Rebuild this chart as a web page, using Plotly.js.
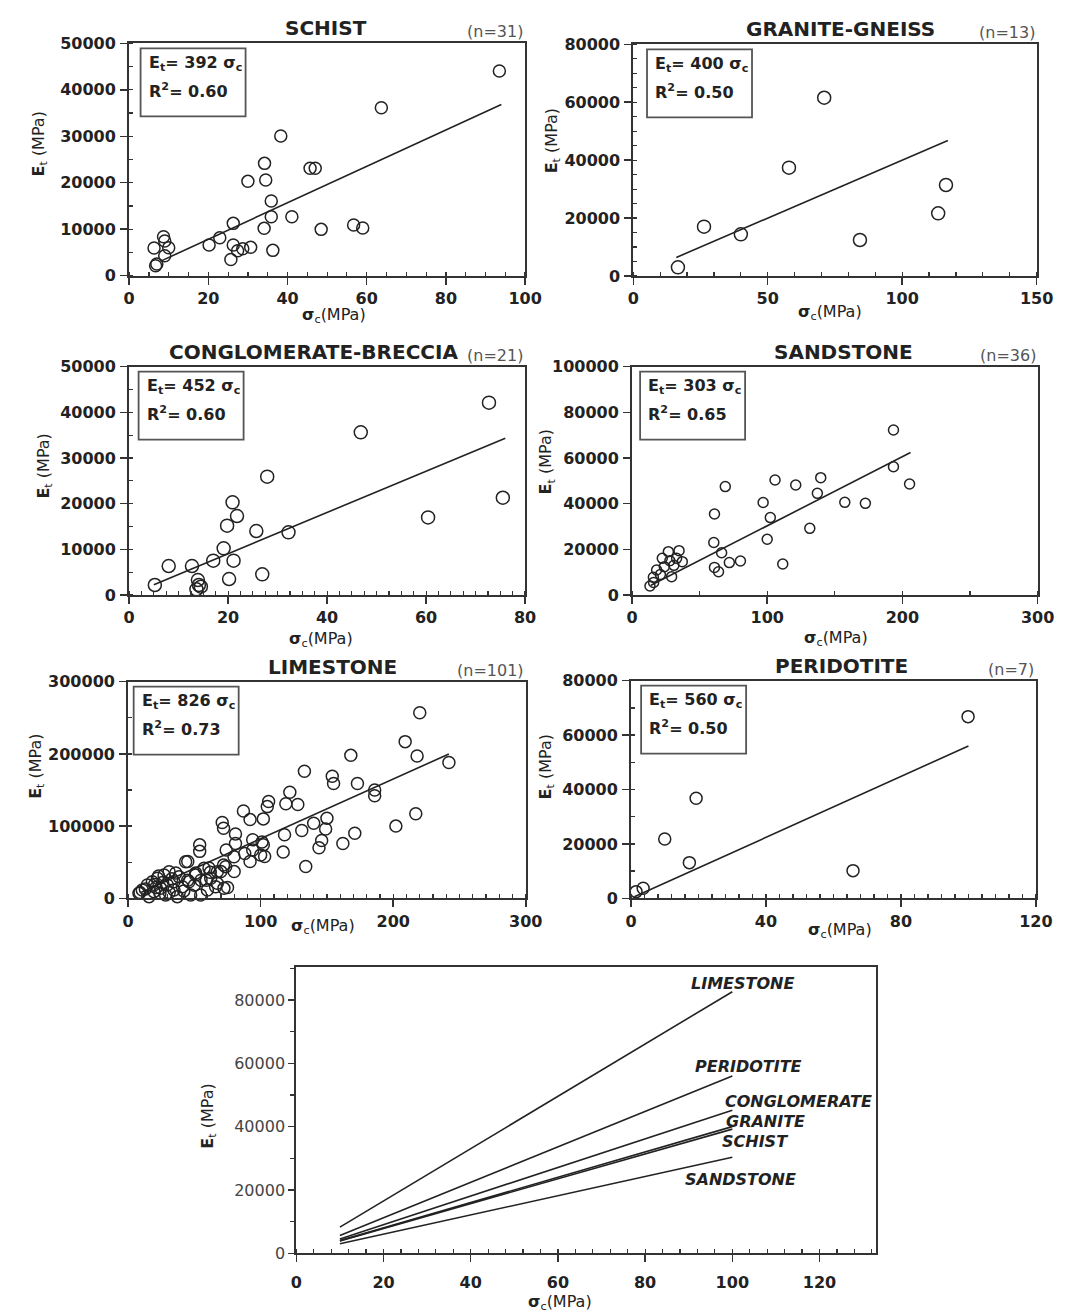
<!DOCTYPE html>
<html>
<head>
<meta charset="utf-8">
<script src="https://cdn.plot.ly/plotly-3.0.1.min.js"></script>
<style>
  html, body { margin: 0; padding: 0; background: #fff; }
  #chart { width: 1078px; height: 1315px; }
</style>
</head>
<body>
<div id="chart"></div>
<script>
// ---------- data ----------
const rockNames = ['SCHIST', 'GRANITE-GNEISS', 'CONGLOMERATE-BRECCIA', 'SANDSTONE', 'LIMESTONE', 'PERIDOTITE'];
const sampleCounts = [31, 13, 21, 36, 101, 7];
const slopes = [392, 400, 452, 303, 826, 560];       // Et = slope * sigma_c
const r2Values = ['0.60', '0.50', '0.60', '0.65', '0.73', '0.50'];
const fitXRange = [[8, 94], [16, 117], [5, 76], [14, 206], [10, 242], [1, 100]];

const schistSigma = [93.5, 63.7, 38.3, 34.2, 30.0, 34.5, 45.7, 47.0, 35.9, 35.9, 41.1, 34.1, 48.5, 56.7, 59.0, 26.3,
  36.3, 22.9, 20.2, 26.3, 25.7, 27.4, 28.7, 30.7, 6.3, 8.7, 9.0, 10.0, 9.0, 7.0, 6.7];
const schistE = [44050, 36150, 30060, 24170, 20300, 20590, 23100, 23100, 16070, 12700, 12700, 10190, 9970, 10900, 10260, 11260,
  5450, 8180, 6600, 6600, 3500, 5380, 5810, 6100, 5950, 8390, 7460, 6030, 4300, 2510, 2150];

const graniteSigma = [16.6, 26.3, 40.0, 57.9, 71.0, 84.3, 113.4, 116.3];
const graniteE = [2990, 17030, 14380, 37400, 61560, 12430, 21630, 31420];

const conglSigma = [72.7, 46.8, 75.5, 60.4, 27.9, 20.9, 21.8, 19.8, 25.7, 32.2, 19.1, 17.0, 21.1, 8.0, 12.7, 20.2, 26.9,
  5.2, 14.1, 14.5, 13.6, 13.9];
const conglE = [42120, 35620, 21310, 17000, 25910, 20290, 17300, 15180, 14010, 13720, 10220, 7520, 7520, 6350, 6350, 3500, 4530,
  2190, 2190, 1820, 1240, 3280];

const sandSigma = [193.4, 193.4, 205.3, 105.8, 121.1, 139.6, 137.1, 69.0, 97.0, 157.4, 172.6, 102.3, 61.0, 131.5, 100.0, 60.5,
  111.5, 66.3, 61.0, 64.0, 72.0, 80.2,
  13.3, 15.8, 18.2, 22.4, 26.9, 23.9, 29.3, 33.0, 34.8, 37.2, 16.0, 21.0, 28.0, 31.0];
const sandE = [72260, 56200, 48610, 50360, 48180, 51390, 44530, 47500, 40500, 40580, 40150, 33900, 35500, 29200, 24400, 23000,
  13600, 18500, 12100, 10200, 14200, 14900,
  3940, 7740, 10950, 16060, 18980, 12410, 8030, 16060, 19420, 14600, 5500, 9000, 15000, 13000];

const limeSigma = [220, 209, 218, 242, 168, 133, 154, 155, 173, 186, 186, 122, 119, 128, 106, 105, 87, 92, 102, 71,
  72, 81, 150, 140, 149, 118, 131, 171, 217, 202, 146, 144, 162, 117, 134, 102, 101, 94, 94, 100,
  103, 92, 88, 81, 74, 54, 54, 72, 70, 80, 61, 75, 66, 59, 51, 45, 45,
  10.7, 14.5, 18.3, 22.1, 27.1, 30.9, 19.5, 24.6, 29.6, 34.6, 38.4, 43.4, 28.3, 34.6, 40.9, 45.9, 51, 57.3, 62.3, 67.3,
  72.3, 67.3, 73.6, 79.9, 59.8, 54.7, 47.2, 37.1, 15.8, 8.2, 13, 20, 24, 33, 26, 9, 21, 36, 42, 50, 31, 23, 55, 62];
const limeE = [257000, 217000, 197000, 188000, 198000, 176000, 169000, 159000, 159000, 150000, 142000, 147000, 131000, 130000, 134000, 127000, 121000, 109000, 110000, 105000,
  97000, 89000, 111000, 104000, 96000, 88000, 94000, 90000, 117000, 100000, 80000, 70000, 76000, 64000, 44000, 74000, 78000, 81000, 67000, 60000,
  58000, 51000, 62000, 76000, 67000, 74000, 65000, 46000, 37000, 37000, 42000, 15000, 16000, 25000, 35000, 51000, 25000,
  11500, 18400, 23000, 27700, 32300, 36900, 9200, 13800, 18400, 23000, 29900, 50700, 4600, 11500, 16100, 23000, 32300, 41500, 27700, 20700,
  13800, 36900, 43800, 57600, 11500, 4600, 4600, 2300, 2300, 6900, 13000, 19000, 7000, 27000, 22000, 8000, 15000, 35000, 10000, 18000, 8000, 31000, 25000, 36000];

const peridSigma = [99.9, 19.3, 10.0, 17.3, 65.8, 3.6, 1.5];
const peridE = [66790, 36760, 21810, 13110, 10170, 3680, 2450];

// comparison panel: one fitted line per rock type
const compareNames = ['LIMESTONE', 'PERIDOTITE', 'CONGLOMERATE', 'GRANITE', 'SCHIST', 'SANDSTONE'];
const compareSlopes = [826, 560, 452, 400, 392, 303];
const compareSigma = [10, 100];

// ---------- layout helpers ----------
const W = 1078, H = 1315;
const FONT = 'DejaVu Sans';
const INK = '#222';
const FRAME = '#333';

const pointSets = [
  [schistSigma, schistE], [graniteSigma, graniteE], [conglSigma, conglE],
  [sandSigma, sandE], [limeSigma, limeE], [peridSigma, peridE]
];

// pixel boxes of the six scatter panels and their axis setup
const panels = [
  { px: [129.1, 525.1], py: [43.3, 275.7], xr: [0, 100], yr: [0, 50000], xd: 20, xm: 5, yd: 10000, ym: 5000, ms: 12,
    tX: 0.498, ytX: -0.226, ytY: 0.567, xtX: 0.517, xtOff: 40, boxX: 0.029 },
  { px: [633.3, 1036.6], py: [44.3, 276], xr: [0, 150], yr: [0, 80000], xd: 50, xm: 10, yd: 20000, ym: 5000, ms: 13,
    tX: 0.513, ytX: -0.2, ytY: 0.584, xtX: 0.488, xtOff: 36, boxX: 0.034 },
  { px: [129.1, 525.1], py: [366.7, 595], xr: [0, 80], yr: [0, 50000], xd: 20, xm: 2.5, yd: 10000, ym: 5000, ms: 13,
    tX: 0.465, ytX: -0.216, ytY: 0.565, xtX: 0.484, xtOff: 44, boxX: 0.024 },
  { px: [632, 1037.6], py: [366.7, 595], xr: [0, 300], yr: [0, 100000], xd: 100, xm: 50, yd: 20000, ym: null, ms: 10,
    tX: 0.522, ytX: -0.21, ytY: 0.584, xtX: 0.503, xtOff: 43, boxX: 0.020 },
  { px: [128.1, 525.8], py: [681.7, 898.3], xr: [0, 300], yr: [0, 300000], xd: 100, xm: 10, yd: 100000, ym: 50000, ms: 12,
    tX: 0.513, ytX: -0.231, ytY: 0.608, xtX: 0.489, xtOff: 28.4, boxX: 0.014 },
  { px: [631, 1035.9], py: [680.7, 898.3], xr: [0, 120], yr: [0, 80000], xd: 40, xm: 4, yd: 20000, ym: 10000, ms: 12,
    tX: 0.519, ytX: -0.208, ytY: 0.605, xtX: 0.517, xtOff: 32.4, boxX: 0.025 }
];
const comparePanel = { px: [296.3, 876.2], py: [967.3, 1253.3] };

function domX(p) { return [p[0] / W, p[1] / W]; }
function domY(p) { return [1 - p[1] / H, 1 - p[0] / H]; }

function makeAxis(domain, range, dtick, minorDtick, anchor, tickFont, standoff) {
  const ax = {
    domain: domain, range: range, anchor: anchor,
    tick0: 0, dtick: dtick, tickformat: 'd',
    ticks: 'outside', ticklen: 7, tickwidth: 1.5, tickcolor: FRAME,
    showline: true, linecolor: FRAME, linewidth: 2, mirror: true,
    showgrid: false, zeroline: false, fixedrange: true,
    tickfont: tickFont,
    ticklabelstandoff: standoff || 0
  };
  if (minorDtick) {
    ax.minor = { dtick: minorDtick, tick0: 0, ticks: 'inside', ticklen: 4, tickwidth: 1.2, tickcolor: FRAME, showgrid: false };
  }
  return ax;
}

const tickBold = { family: FONT, size: 16, weight: 'bold', color: INK };

const data = [];
const layout = {
  width: W, height: H,
  margin: { l: 0, r: 0, t: 0, b: 0 },
  paper_bgcolor: '#fff', plot_bgcolor: '#fff',
  showlegend: false,
  annotations: [], shapes: []
};

panels.forEach((p, i) => {
  const k = i + 1;
  const xId = k === 1 ? 'x' : 'x' + k;
  const yId = k === 1 ? 'y' : 'y' + k;
  const xKey = k === 1 ? 'xaxis' : 'xaxis' + k;
  const yKey = k === 1 ? 'yaxis' : 'yaxis' + k;
  const xDom = xId + ' domain', yDom = yId + ' domain';
  const wPx = p.px[1] - p.px[0], hPx = p.py[1] - p.py[0];

  layout[xKey] = makeAxis(domX(p.px), p.xr, p.xd, p.xm, yId, tickBold, 0);
  layout[yKey] = makeAxis(domY(p.py), p.yr, p.yd, p.ym, xId, tickBold, 1);

  // measured samples
  const pts = pointSets[i];
  data.push({
    type: 'scatter', mode: 'markers', xaxis: xId, yaxis: yId,
    x: pts[0], y: pts[1], cliponaxis: false,
    marker: { symbol: 'circle-open', size: p.ms, color: INK, line: { width: 1.5, color: INK } },
    hoverinfo: 'skip'
  });

  // fitted line Et = slope * sigma_c
  const fx = fitXRange[i];
  data.push({
    type: 'scatter', mode: 'lines', xaxis: xId, yaxis: yId,
    x: fx, y: fx.map(v => slopes[i] * v),
    line: { color: INK, width: 1.6 }, hoverinfo: 'skip'
  });

  // panel title and sample count
  layout.annotations.push({
    xref: xDom, yref: yDom, x: p.tX, y: 1, xanchor: 'center', yanchor: 'bottom', yshift: 1,
    text: '<b>' + rockNames[i] + '</b>', showarrow: false,
    font: { family: FONT, size: 20, color: INK }
  });
  layout.annotations.push({
    xref: xDom, yref: yDom, x: 1, y: 1, xanchor: 'right', yanchor: 'bottom', yshift: 0,
    text: '(n=' + sampleCounts[i] + ')', showarrow: false,
    font: { family: FONT, size: 16, color: '#555' }
  });

  // equation box
  const bw = 105, bh = 68, bTop = 5;
  layout.shapes.push({
    type: 'rect', xref: xDom, yref: yDom,
    x0: p.boxX, x1: p.boxX + bw / wPx, y0: 1 - (bTop + bh) / hPx, y1: 1 - bTop / hPx,
    line: { color: '#555', width: 1.8 }, fillcolor: 'rgba(0,0,0,0)'
  });
  layout.annotations.push({
    xref: xDom, yref: yDom, x: p.boxX + 6 / wPx, y: 1 - 20 / hPx, xanchor: 'left', yanchor: 'middle',
    text: '<b>E<sub>t</sub>= ' + slopes[i] + ' σ<sub>c</sub></b>', showarrow: false,
    font: { family: FONT, size: 16, color: INK }
  });
  layout.annotations.push({
    xref: xDom, yref: yDom, x: p.boxX + 6 / wPx, y: 1 - 47 / hPx, xanchor: 'left', yanchor: 'middle',
    text: '<b>R<sup>2</sup>= ' + r2Values[i] + '</b>', showarrow: false,
    font: { family: FONT, size: 16, color: INK }
  });

  // axis titles
  layout.annotations.push({
    xref: xDom, yref: yDom, x: p.ytX, y: p.ytY, xanchor: 'center', yanchor: 'middle', textangle: -90,
    text: '<b>E</b><sub>t</sub> (MPa)', showarrow: false,
    font: { family: FONT, size: 16, color: INK }
  });
  layout.annotations.push({
    xref: xDom, yref: yDom, x: p.xtX, y: 0, yshift: -p.xtOff, xanchor: 'center', yanchor: 'middle',
    text: '<b>σ</b><sub>c</sub>(MPa)', showarrow: false,
    font: { family: FONT, size: 16, color: INK }
  });
});

// ---------- comparison panel ----------
const cp = comparePanel;
layout.xaxis7 = makeAxis(domX(cp.px), [0, 133], 20, 4, 'y7', { family: FONT, size: 16, weight: 'bold', color: INK }, 6);
layout.yaxis7 = makeAxis(domY(cp.py), [0, 90300], 20000, 10000, 'x7', { family: FONT, size: 16, color: '#444' }, 0);
layout.yaxis7.ticklen = 6;
layout.yaxis7.minor.ticks = 'outside';

compareNames.forEach((name, j) => {
  data.push({
    type: 'scatter', mode: 'lines', xaxis: 'x7', yaxis: 'y7',
    x: compareSigma, y: compareSigma.map(v => compareSlopes[j] * v),
    line: { color: INK, width: 1.6 }, hoverinfo: 'skip'
  });
});

// label placement for the comparison lines (sigma_c, Et)
const compareLabelPos = [[102.3, 85050], [103.7, 58830], [115.1, 47780], [107.7, 41460], [105.3, 35150], [101.9, 23150]];
compareNames.forEach((name, j) => {
  layout.annotations.push({
    xref: 'x7', yref: 'y7', x: compareLabelPos[j][0], y: compareLabelPos[j][1],
    xanchor: 'center', yanchor: 'middle', showarrow: false,
    text: '<b><i>' + name + '</i></b>',
    font: { family: FONT, size: 16, color: INK }
  });
});
layout.annotations.push({
  xref: 'x7 domain', yref: 'y7 domain', x: -0.152, y: 0.478, xanchor: 'center', yanchor: 'middle', textangle: -90,
  text: '<b>E</b><sub>t</sub> (MPa)', showarrow: false, font: { family: FONT, size: 16, color: INK }
});
layout.annotations.push({
  xref: 'x7', yref: 'y7 domain', x: 60.5, y: 0, yshift: -49, xanchor: 'center', yanchor: 'middle',
  text: '<b>σ</b><sub>c</sub>(MPa)', showarrow: false, font: { family: FONT, size: 16, color: INK }
});

Plotly.newPlot('chart', data, layout, { staticPlot: true, displayModeBar: false });
</script>
</body>
</html>
